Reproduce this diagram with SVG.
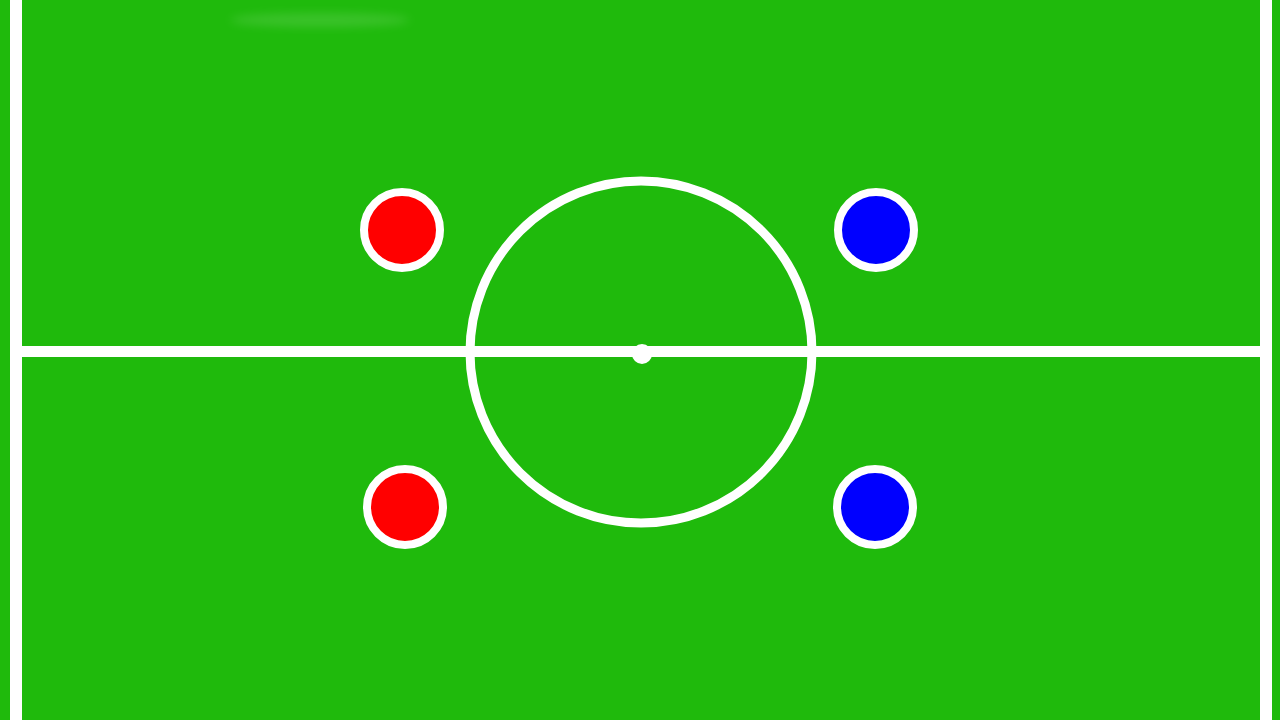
<svg xmlns="http://www.w3.org/2000/svg" width="1280" height="720" viewBox="0 0 1280 720">
<defs>
<filter id="blur" x="-50%" y="-50%" width="200%" height="200%"><feGaussianBlur stdDeviation="5"/></filter>
</defs>
<style>
.line{stroke:#ffffff;fill:none}
.player{stroke:#ffffff;stroke-width:8}
.red{fill:#ff0000}
.blue{fill:#0000ff}
</style>
<rect x="0" y="0" width="1280" height="720" fill="#1fba0c"/>
<ellipse cx="320" cy="20" rx="90" ry="7" fill="#ffffff" opacity="0.12" filter="url(#blur)"/>
<g id="field">
<rect x="10" y="0" width="12" height="720" fill="#ffffff"/>
<rect x="1260" y="0" width="12" height="720" fill="#ffffff"/>
<rect x="22" y="346" width="1238" height="11" fill="#ffffff"/>
<circle class="line" cx="641" cy="352" r="171" stroke-width="9"/>
<circle cx="642" cy="354" r="10" fill="#ffffff"/>
</g>
<g id="red1"><circle class="player red" cx="402" cy="230" r="38"/></g>
<g id="red2"><circle class="player red" cx="405" cy="507" r="38"/></g>
<g id="blue1"><circle class="player blue" cx="876" cy="230" r="38"/></g>
<g id="blue2"><circle class="player blue" cx="875" cy="507" r="38"/></g>
</svg>
